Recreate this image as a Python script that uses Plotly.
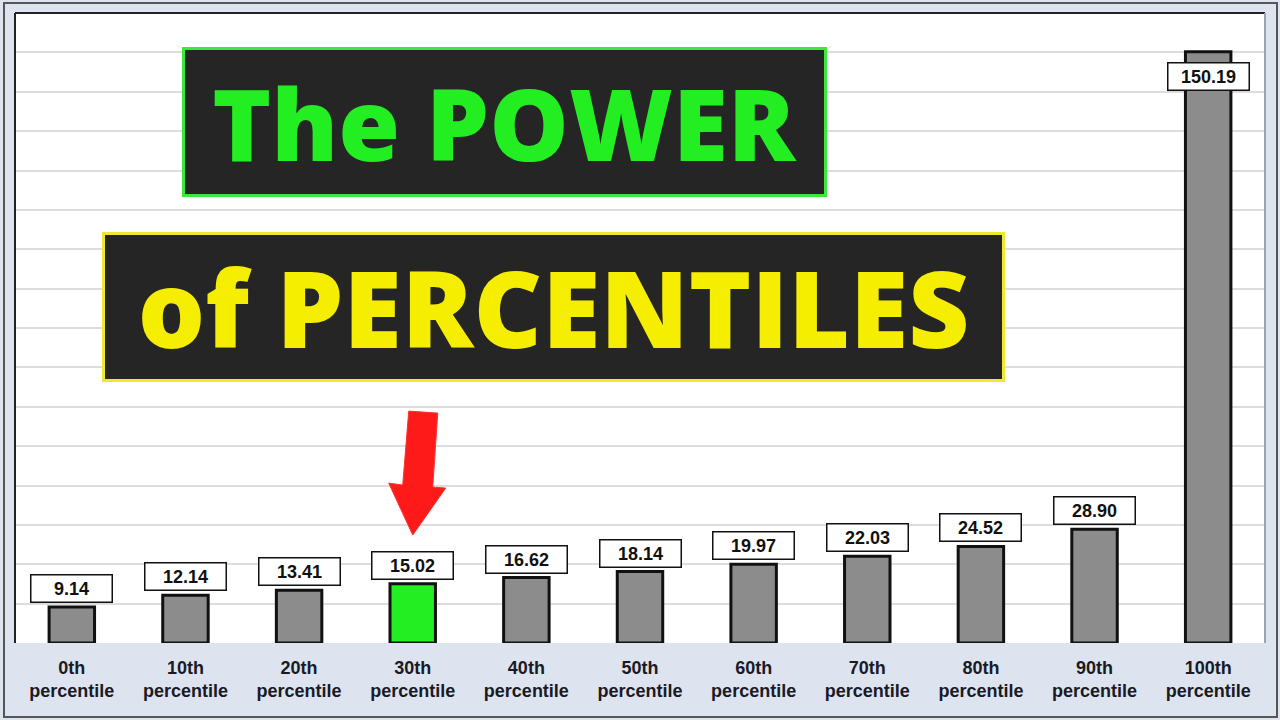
import plotly.graph_objects as go

# percentile values
categories = ['0th<br>percentile', '10th<br>percentile', '20th<br>percentile', '30th<br>percentile',
              '40th<br>percentile', '50th<br>percentile', '60th<br>percentile', '70th<br>percentile',
              '80th<br>percentile', '90th<br>percentile', '100th<br>percentile']
values = [9.14, 12.14, 13.41, 15.02, 16.62, 18.14, 19.97, 22.03, 24.52, 28.90, 150.19]
highlight = '30th<br>percentile'

title_top = 'The POWER'
title_bottom = 'of PERCENTILES'

bar_colors = ['#22ee22' if c == highlight else '#8c8c8c' for c in categories]

fig = go.Figure()
fig.add_trace(go.Bar(
    x=categories, y=values,
    marker=dict(color=bar_colors, line=dict(color='#111111', width=3)),
    hoverinfo='skip'
))

# value boxes above each bar
top_val = max(values)
for c, v in zip(categories, values):
    at_top = v == top_val
    fig.add_annotation(
        x=c, y=v, text='<b>%.2f</b>' % v, showarrow=False,
        yanchor='top' if at_top else 'bottom', yshift=-10 if at_top else 4,
        width=78, height=24, bgcolor='white', bordercolor='#111111',
        borderwidth=1.5, borderpad=1,
        font=dict(family='Liberation Sans, Arial', size=18, color='#111111')
    )

# red arrow pointing down at the highlighted bar (path in pixels from the tip)
fig.add_shape(
    type='path', xref='x', yref='y', xsizemode='pixel', ysizemode='pixel',
    xanchor=highlight, yanchor=27.4,
    path='M 0,0 L -24,52 L -10,50 L -4,124 L 25,122 L 20,48 L 33,47 Z',
    fillcolor='#ff1a1a', line=dict(color='#ff3030', width=1)
)

# title boxes
fig.add_annotation(
    x=0.3916, y=0.827, xref='paper', yref='paper', showarrow=False,
    xanchor='center', yanchor='middle',
    text=title_top, width=637, height=142,
    bgcolor='#252525', bordercolor='#3de83d', borderwidth=3, borderpad=1,
    font=dict(family='Open Sans', size=100, color='#22ee22', weight=800)
)
fig.add_annotation(
    x=0.4308, y=0.5333, xref='paper', yref='paper', showarrow=False,
    xanchor='center', yanchor='middle',
    text=title_bottom, width=895, height=142,
    bgcolor='#252525', bordercolor='#f0e830', borderwidth=3, borderpad=1,
    font=dict(family='Open Sans', size=106, color='#f5ee00', weight=800)
)

# frame lines
fig.add_shape(type='rect', xref='paper', yref='paper',
              x0=-0.0088, x1=1.0096, y0=-0.1175, y1=1.0159,
              line=dict(color='#555555', width=2), layer='below')
fig.add_shape(type='line', xref='paper', yref='paper', x0=0, x1=0, y0=0, y1=1,
              line=dict(color='#222222', width=2))
fig.add_shape(type='line', xref='paper', yref='paper', x0=0, x1=1, y0=1, y1=1,
              line=dict(color='#222222', width=2))
fig.add_shape(type='line', xref='paper', yref='paper', x0=1, x1=1, y0=0, y1=1,
              line=dict(color='#9aa3b0', width=2))

fig.update_layout(
    width=1280, height=720,
    margin=dict(l=15, r=15, t=13, b=77),
    paper_bgcolor='#dde4ef', plot_bgcolor='white',
    bargap=0.6, showlegend=False,
    xaxis=dict(
        showgrid=False, zeroline=False, ticks='outside', ticklen=8,
        tickcolor='rgba(0,0,0,0)',
        tickfont=dict(family='Liberation Sans, Arial', size=18, color='#1a1a26'),
        tickprefix='<b>', ticksuffix='</b>'
    ),
    yaxis=dict(
        range=[0, 160], dtick=10, showticklabels=False,
        gridcolor='#dddddd', gridwidth=1.5, zeroline=False
    )
)

fig.write_html("out.html", config={'displayModeBar': False},
               post_script="document.body.style.margin='0';document.body.style.overflow='hidden';")
